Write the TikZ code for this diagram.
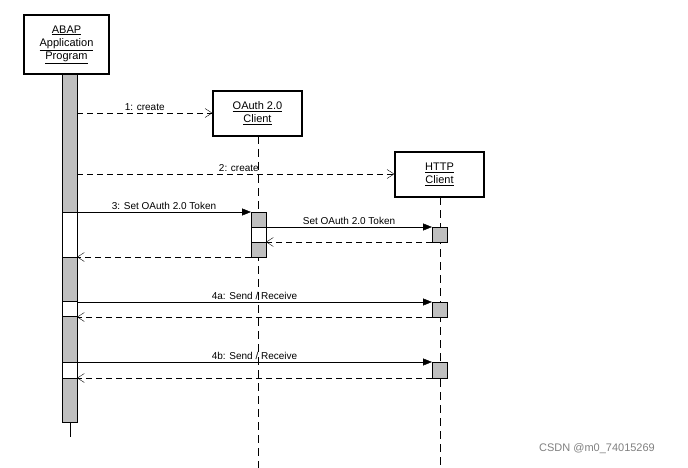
\documentclass[tikz,border=0pt]{standalone}
\usepackage{fontspec}
\setmainfont{Liberation Sans}
\usetikzlibrary{arrows.meta}
\begin{document}
\begin{tikzpicture}[x=1pt,y=-1pt,
  obj/.style={draw,line width=1.2pt,fill=white,align=center,inner sep=0pt,font=\fontsize{11}{13}\selectfont},
  act/.style={draw,fill=gray!50},
  actw/.style={draw,fill=white},
  life/.style={dash pattern=on 8pt off 5pt},
  call/.style={-{Triangle[length=9pt,width=7pt]}},
  ret/.style={dash pattern=on 6pt off 4pt,-{Straight Barb[length=7pt,width=9pt]}},
  lbl/.style={font=\fontsize{10}{12}\selectfont,inner sep=1pt}]
\useasboundingbox (0,0) rectangle (688,468);
% lifelines
\draw[life] (258,136) -- (258,468);
\draw[life] (440,197) -- (440,468);
\draw (70,422) -- (70,437);
% ABAP activation
\draw[act] (62,74) rectangle (77,212);
\draw[actw] (62,212) rectangle (77,257);
\draw[act] (62,257) rectangle (77,301);
\draw[actw] (62,301) rectangle (77,316);
\draw[act] (62,316) rectangle (77,362);
\draw[actw] (62,362) rectangle (77,378);
\draw[act] (62,378) rectangle (77,422);
% OAuth activation
\draw[act] (251,212) rectangle (266,227);
\draw[actw] (251,227) rectangle (266,242);
\draw[act] (251,242) rectangle (266,257);
% HTTP activations
\draw[act] (432,227) rectangle (447,242);
\draw[act] (432,302) rectangle (447,317);
\draw[act] (432,362) rectangle (447,378);
% objects
\node[obj,minimum width=85pt,minimum height=59pt] (abap) at (66.5,44.5) {\underline{ABAP}\\\underline{Application}\\\underline{Program}};
\node[obj,minimum width=89pt,minimum height=45pt] (oauth) at (257.5,113.5) {\underline{OAuth 2.0}\\\underline{Client}};
\node[obj,minimum width=89pt,minimum height=45pt] (http) at (439.5,174.5) {\underline{HTTP}\\\underline{Client}};
% messages
\coordinate (a1) at (77,113);
\draw[ret] (a1) -- (oauth.west |- a1) node[lbl,midway,above=1pt]{1: create};
\coordinate (a2) at (77,174);
\draw[ret] (a2) -- (http.west |- a2) node[lbl,pos=0.51,above=1pt]{2: create};
\coordinate (a3) at (77,212); \coordinate (b3) at (251,212);
\draw[call] (a3) -- (b3) node[lbl,midway,above=1pt]{3: Set OAuth 2.0 Token};
\coordinate (a4) at (266,227); \coordinate (b4) at (432,227);
\draw[call] (a4) -- (b4) node[lbl,midway,above=1pt]{Set OAuth 2.0 Token};
\coordinate (a5) at (432,242); \coordinate (b5) at (266,242);
\draw[ret] (a5) -- (b5);
\coordinate (a6) at (251,257); \coordinate (b6) at (77,257);
\draw[ret] (a6) -- (b6);
\coordinate (a7) at (77,302); \coordinate (b7) at (432,302);
\draw[call] (a7) -- (b7) node[lbl,pos=0.5,above=1pt]{4a: Send / Receive};
\coordinate (a8) at (432,317); \coordinate (b8) at (77,317);
\draw[ret] (a8) -- (b8);
\coordinate (a9) at (77,362); \coordinate (b9) at (432,362);
\draw[call] (a9) -- (b9) node[lbl,pos=0.5,above=1pt]{4b: Send / Receive};
\coordinate (a10) at (432,378); \coordinate (b10) at (77,378);
\draw[ret] (a10) -- (b10);
\node[text=gray,font=\fontsize{11}{13}\selectfont] (wm) at (597,449) {CSDN @m0\_74015269};
\end{tikzpicture}
\end{document}
